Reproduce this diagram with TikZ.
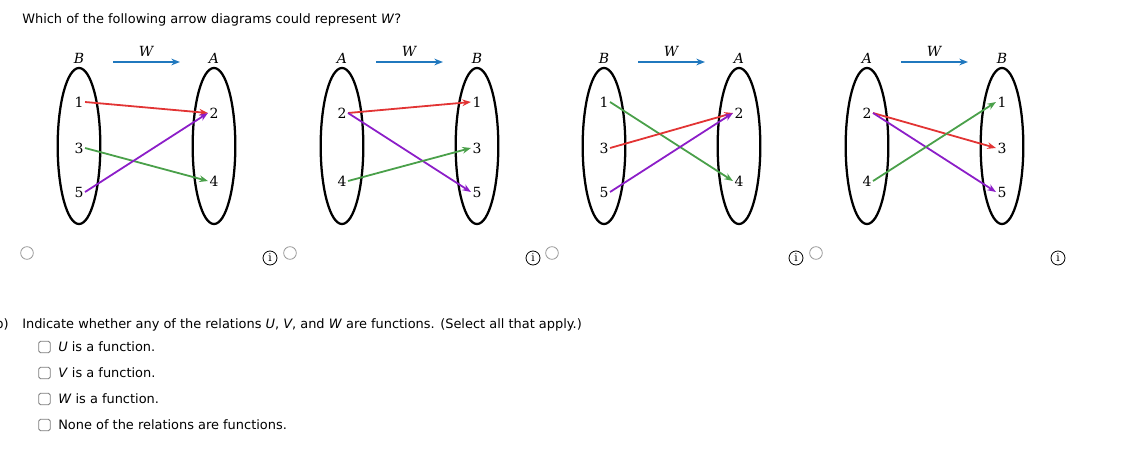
\documentclass[tikz,border=0pt]{standalone}
\usepackage{fontspec}
\setmainfont{DejaVu Sans}
\newfontfamily\diagfont{DejaVu Serif}
\usetikzlibrary{arrows.meta,shapes.geometric}
\definecolor{mapred}{RGB}{226,52,52}
\definecolor{mapgreen}{RGB}{74,160,74}
\definecolor{mappurple}{RGB}{140,30,200}
\definecolor{mapblue}{RGB}{32,120,190}
\definecolor{boxgray}{RGB}{125,125,125}

\begin{document}
\begin{tikzpicture}[x=0.75pt, y=-0.75pt,
		setring/.style={draw, ellipse, line width=1.7pt, minimum width=32pt, minimum height=117pt, inner sep=0pt},
		elem/.style={font=\diagfont\fontsize{10.5}{12}\selectfont, inner sep=1pt},
		setname/.style={font=\diagfont\itshape\fontsize{10.5}{12}\selectfont, inner sep=0pt},
		maparrow/.style={line width=1.35pt, -{Stealth[length=6.5pt, width=5pt]}},
		radio/.style={circle, draw=boxgray!80, minimum size=9.5pt, inner sep=0pt, line width=0.6pt},
		infoicon/.style={circle, draw, minimum size=10.5pt, inner sep=0pt, line width=0.6pt, font=\diagfont\fontsize{8}{9}\selectfont},
		checkbox/.style={draw=boxgray, rounded corners=1.2pt, minimum size=8.5pt, inner sep=0pt, line width=0.6pt},
		txt/.style={anchor=base west, inner sep=0pt, font=\fontsize{9.7}{11}\selectfont}]
	
	\useasboundingbox (0,0) rectangle (1147,457);
	\clip (0,0) rectangle (1147,457);
	
	% Question
	\node[txt] (question) at (22,23) {Which of the following arrow diagrams could represent \textit{W}?};
	
	% Sets, set names and the W arrow of each diagram
	\foreach \i/\ox/\lname/\rname in {1/79/B/A, 2/342/A/B, 3/604/B/A, 4/867/A/B} {
		\node[setring] (L\i) at (\ox,146) {};
		\node[setring] (R\i) at (\ox+135,146) {};
		\node[setname] (Lname\i) at (\ox,58) {\lname};
		\node[setname] (Rname\i) at (\ox+135,58) {\rname};
		\node[setname] (W\i) at (\ox+67,51) {W};
		\coordinate (Wstart\i) at (\ox+34,62);
		\coordinate (Wend\i) at (\ox+101,62);
		\draw[maparrow, mapblue] (Wstart\i) -- (Wend\i);
	}
	
	% Elements of B and A
	\foreach \n/\y in {1/102,3/148,5/192} {
		\node[elem] (d1-\n) at (79,\y) {\n};
		\node[elem] (d2-\n) at (477,\y) {\n};
		\node[elem] (d3-\n) at (604,\y) {\n};
		\node[elem] (d4-\n) at (1002,\y) {\n};
	}
	\foreach \n/\y in {2/113,4/181} {
		\node[elem] (d1-\n) at (214,\y) {\n};
		\node[elem] (d2-\n) at (342,\y) {\n};
		\node[elem] (d3-\n) at (739,\y) {\n};
		\node[elem] (d4-\n) at (867,\y) {\n};
	}
	
	% Arrows of diagram 1
	\draw[maparrow, mapred] (d1-1.east) -- (d1-2.west);
	\draw[maparrow, mapgreen] (d1-3.east) -- (d1-4.west);
	\draw[maparrow, mappurple] (d1-5.east) -- (d1-2.west);
	
	% Arrows of diagram 2
	\draw[maparrow, mapred] (d2-2.east) -- (d2-1.west);
	\draw[maparrow, mappurple] (d2-2.east) -- (d2-5.west);
	\draw[maparrow, mapgreen] (d2-4.east) -- (d2-3.west);
	
	% Arrows of diagram 3
	\draw[maparrow, mapgreen] (d3-1.east) -- (d3-4.west);
	\draw[maparrow, mapred] (d3-3.east) -- (d3-2.west);
	\draw[maparrow, mappurple] (d3-5.east) -- (d3-2.west);
	
	% Arrows of diagram 4
	\draw[maparrow, mapred] (d4-2.east) -- (d4-3.west);
	\draw[maparrow, mappurple] (d4-2.east) -- (d4-5.west);
	\draw[maparrow, mapgreen] (d4-4.east) -- (d4-1.west);
	
	% Radio buttons and info icons
	\foreach \i/\x in {1/27, 2/290, 3/552, 4/816} {
		\node[radio] (radio\i) at (\x,253) {};
	}
	\foreach \i/\x in {1/270, 2/533, 3/796, 4/1058} {
		\node[infoicon] (info\i) at (\x,258) {i};
	}
	
	% Part b
	\node[txt, anchor=base east] (partb) at (9,328) {b)};
	\node[txt] (indicate) at (22,328) {Indicate whether any of the relations \textit{U}, \textit{V}, and \textit{W} are functions. (Select all that apply.)};
	\foreach \i/\y/\t in {1/347/\textit{U} is a function., 2/373/\textit{V} is a function., 3/399/\textit{W} is a function., 4/425/None of the relations are functions.} {
		\node[checkbox] (box\i) at (44.5,\y) {};
		\node[txt] (option\i) at (58,\y+4.5) {\t};
	}
	
\end{tikzpicture}
\end{document}
